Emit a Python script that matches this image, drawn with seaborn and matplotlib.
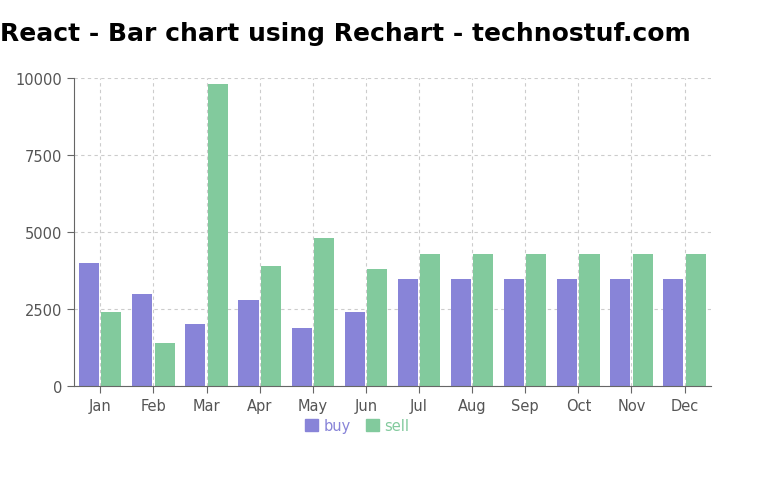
import matplotlib
matplotlib.use("Agg")
import matplotlib.pyplot as plt
import seaborn as sns
import pandas as pd

months = ["Jan","Feb","Mar","Apr","May","Jun","Jul","Aug","Sep","Oct","Nov","Dec"]
buy = [4000,3000,2000,2780,1890,2390,3490,3490,3490,3490,3490,3490]
sell = [2400,1398,9800,3908,4800,3800,4300,4300,4300,4300,4300,4300]

df = pd.DataFrame({"month": months*2, "value": buy+sell,
                   "series": ["buy"]*12 + ["sell"]*12})
colors = {"buy": "#8884d8", "sell": "#82ca9d"}

fig = plt.figure(figsize=(7.68, 4.85), dpi=100)
ax = fig.add_axes([0.096, 0.202, 0.83, 0.635])
sns.barplot(data=df, x="month", y="value", hue="series", palette=colors,
            ax=ax, width=0.84, gap=0.1, saturation=1, legend=False)
ax.set_ylim(0, 10000)
ax.set_xlim(-0.5, 11.5)
ax.set_yticks([0, 2500, 5000, 7500, 10000])
ax.set_xlabel(""); ax.set_ylabel("")
ax.grid(True, ls=(0, (3, 3)), color="#cccccc", lw=0.8)
ax.set_axisbelow(True)
for s in ["top", "right"]:
    ax.spines[s].set_visible(False)
for s in ["left", "bottom"]:
    ax.spines[s].set_color("#666666")
ax.tick_params(colors="#666666", labelsize=10.5, length=5)
for t in ax.get_xticklabels() + ax.get_yticklabels():
    t.set_color("#555555")

fig.text(0.0, 0.93, "React - Bar chart using Rechart - technostuf.com",
         fontsize=18, fontweight="bold", ha="left", va="center")

handles = [plt.Rectangle((0, 0), 1, 1, color=colors[k]) for k in ["buy", "sell"]]
leg = fig.legend(handles, ["buy", "sell"], loc="center", bbox_to_anchor=(0.465, 0.12),
                 ncol=2, frameon=False, fontsize=10.5, handlelength=0.9,
                 handleheight=0.9, columnspacing=1.0, handletextpad=0.4)
for t, k in zip(leg.get_texts(), ["buy", "sell"]):
    t.set_color(colors[k])

fig.savefig("out.png", dpi=100)
